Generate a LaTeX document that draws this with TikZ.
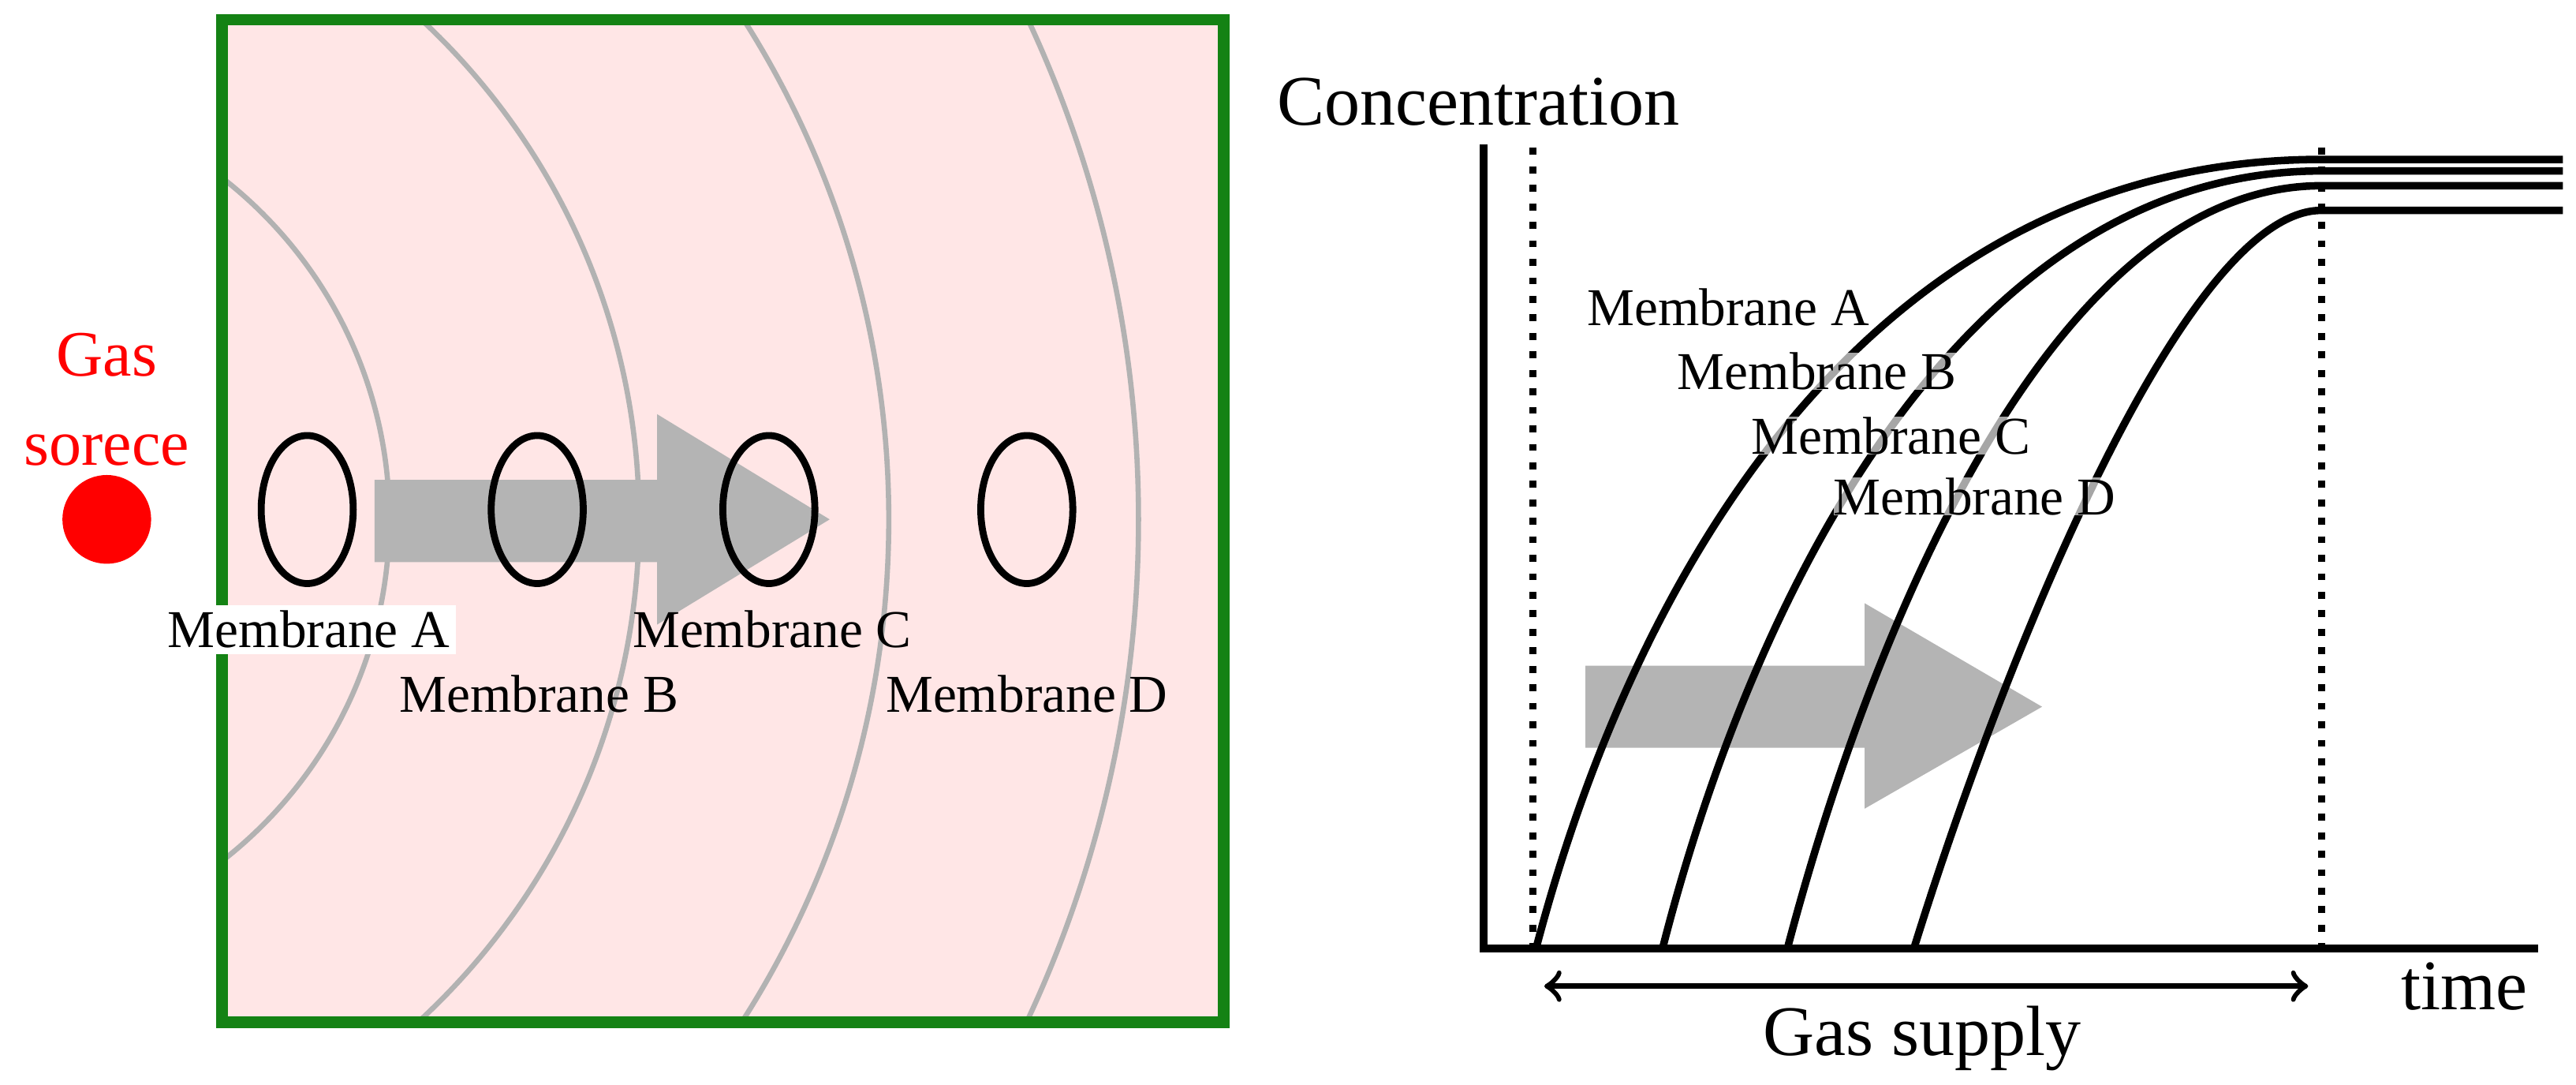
\documentclass[tikz,border=0pt]{standalone}
\usepackage{fontspec}
\usetikzlibrary{shapes.geometric}
\setmainfont{Liberation Serif}
\definecolor{pinkbg}{RGB}{255,230,230}
\definecolor{boxgreen}{RGB}{20,130,20}
\definecolor{arrgray}{RGB}{180,180,180}
\begin{document}
\begin{tikzpicture}[x=0.01cm,y=-0.01cm,
  lbl/.style={font=\fontsize{9.2}{10}\selectfont,inner sep=1pt},
  big/.style={font=\fontsize{12.3}{14}\selectfont},
  memb/.style={draw=black,line width=1.2pt,ellipse,minimum width=0.56cm,minimum height=0.9cm,inner sep=0pt},
  curve/.style={line width=1.3pt},
  fatarrow/.style={fill=arrgray,draw=none}]
\useasboundingbox (0,0) rectangle (1568,660);
% left panel
\fill[pinkbg] (135,12) rectangle (745,622);
\begin{scope}
\clip (135,12) rectangle (745,622);
\foreach \r in {263,415,567,719} \draw[gray!60,line width=0.9pt] (-26,316) circle[radius=\r];
\end{scope}
\draw[boxgreen,line width=2pt] (135,12) rectangle (745,622);
\fill[fatarrow] (228,292) -- (400,292) -- (400,252) -- (505,316) -- (400,380) -- (400,342) -- (228,342) -- cycle;
\node[memb] (ma) at (187,310) {};
\node[memb] (mb) at (327,310) {};
\node[memb] (mc) at (468,310) {};
\node[memb] (md) at (625,310) {};
\node[lbl,fill=white] (la) at (188,383) {Membrane A};
\node[lbl] (lb) at (328,422) {Membrane B};
\node[lbl] (lc) at (470,383) {Membrane C};
\node[lbl] (ld) at (625,422) {Membrane D};
\fill[red] (65,316) circle[radius=27];
\node[red,font=\fontsize{11.2}{15.5}\selectfont,align=center] (gs) at (65,243) {Gas\\sorece};
% right panel
\coordinate (o) at (903,577);
\coordinate (ytop) at (903,88);
\coordinate (xend) at (1545,577);
\draw[line width=1.3pt] (ytop) -- (o) -- (xend);
\node[big] (conc) at (900,62) {Concentration};
\node[big] (time) at (1500,600) {time};
\draw[dotted,line width=1.2pt] (933,90) -- (933,577);
\draw[dotted,line width=1.2pt] (1413,90) -- (1413,577);
\coordinate (s1) at (940,600); \coordinate (s2) at (1405,600);
\draw[<->,line width=1pt] (s1) -- (s2);
\node[big] (gsup) at (1170,632) {Gas supply};
\fill[fatarrow] (965,405) -- (1135,405) -- (1135,367) -- (1243,430) -- (1135,492) -- (1135,455) -- (965,455) -- cycle;
\draw[curve] (935,577) .. controls (1000,330) and (1150,97) .. (1413,97) -- (1560,97);
\draw[curve] (1012,577) .. controls (1070,350) and (1200,104) .. (1413,104) -- (1560,104);
\draw[curve] (1088,577) .. controls (1140,380) and (1250,113) .. (1413,113) -- (1560,113);
\draw[curve] (1165,577) .. controls (1220,400) and (1330,128) .. (1413,128) -- (1560,128);
\tikzset{clbl/.style={lbl,fill=white,fill opacity=0.65,text opacity=1,inner sep=0pt}}
\node[clbl] (ca) at (1052,187) {Membrane A};
\node[clbl] (cb) at (1106,226) {Membrane B};
\node[clbl] (cc) at (1151,265) {Membrane C};
\node[clbl] (cd) at (1202,302) {Membrane D};
\end{tikzpicture}
\end{document}
